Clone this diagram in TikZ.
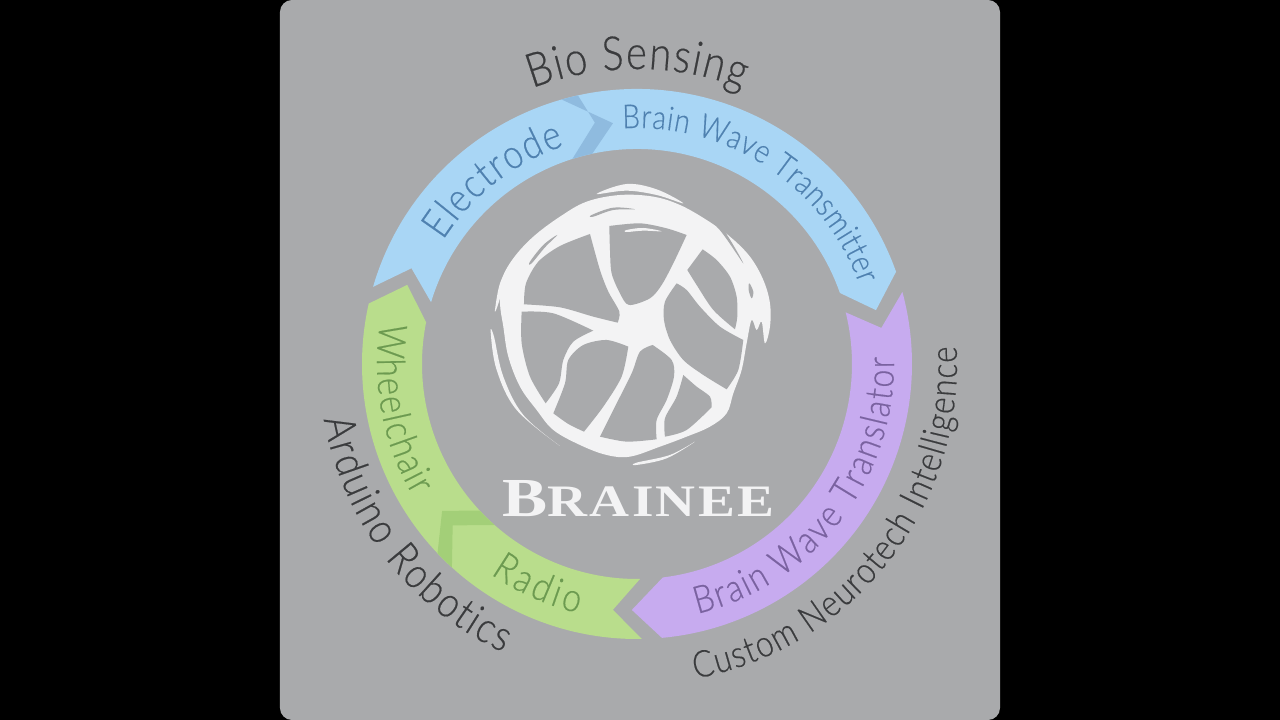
\documentclass[tikz,border=0pt]{standalone}
\usepackage{fontspec}
\usetikzlibrary{decorations.text}
\setmainfont{Carlito}
\newfontfamily\ringfont{Lato Light}[FakeStretch=0.85,FakeBold=0.4]
\newfontfamily\logofont{Liberation Serif}[BoldFont={Liberation Serif Bold}]
\definecolor{panelgrey}{HTML}{A9AAAC}
\definecolor{logowhite}{HTML}{F3F3F4}
\definecolor{darkink}{HTML}{3A3B3D}
\definecolor{bluefill}{HTML}{A9D6F5}
\definecolor{bluefold}{HTML}{8FBBDF}
\definecolor{blueink}{HTML}{4F81B0}
\definecolor{purplefill}{HTML}{C7ABEF}
\definecolor{purpleink}{HTML}{7A62A0}
\definecolor{greenfill}{HTML}{B9DD8C}
\definecolor{greenfold}{HTML}{A3CF78}
\definecolor{greenink}{HTML}{6C9A50}
\newcommand{\ringtext}[2]{\fontsize{#1}{#1}\selectfont\ringfont\color{#2}}
\begin{document}
\begin{tikzpicture}[x=1pt,y=1pt]
\tikzset{curved text/.style n args={2}{ %
		decorate,
		decoration={text along path,text align=fit to path,
			text={|#1|#2{\kern0.1pt}}}
	},
	logo hole/.style={fill=panelgrey},
	logo stroke/.style={fill=logowhite}
}
% origin is the centre of the ring
\useasboundingbox (-637,-356) rectangle (643,364);
\fill[black] (-637,-356) rectangle (643,364);
\fill[panelgrey,rounded corners=12] (-357,-356) rectangle (363,364);
% arrows
\fill[bluefill] (163.7:275) arc[start angle=163.7,end angle=19.6,radius=275]
	-- (12.7:245) -- (19.3:215) arc[start angle=19.3,end angle=163.3,radius=215]
	-- (157:245) -- cycle;
\fill[bluefold] (105.9:275) -- (95.7:242) -- (102:215)
	arc[start angle=102,end angle=107.5,radius=215] -- (99.9:245) -- (102.4:275)
	arc[start angle=102.4,end angle=105.9,radius=275] -- cycle;
\fill[purplefill] (15.2:275) arc[start angle=15.2,end angle=-84.8,radius=275]
	-- (-91.2:246) -- (-83.1:215) arc[start angle=-83.1,end angle=13.9,radius=215]
	-- (8.4:247) -- cycle;
\fill[greenfill] (-89:275) arc[start angle=271,end angle=167.3,radius=275]
	-- (161:243) -- (168.8:215) arc[start angle=168.8,end angle=270.8,radius=215]
	-- (-95.6:247) -- cycle;
\fill[greenfold] (223.5:275) -- (217:244) -- (223:215)
	arc[start angle=223,end angle=228.5,radius=215] -- (221.2:245) -- (227.7:275)
	arc[start angle=227.7,end angle=223.5,radius=275] -- cycle;
% labels on the arrows
\path[curved text={\ringtext{41}{blueink}}{Electrode}]
	(147.5:230) arc[start angle=147.5,end angle=108,radius=230];
\path[curved text={\ringtext{33}{blueink}}{Brain Wave Transmitter}]
	(93.5:236) arc[start angle=93.5,end angle=19.5,radius=236];
\path[curved text={\ringtext{38}{purpleink}}{Brain Wave Translator}]
	(-76.4:257) arc[start angle=-76.4,end angle=2,radius=257];
\path[curved text={\ringtext{40}{greenink}}{Radio}]
	(235.1:256) arc[start angle=235.1,end angle=257.5,radius=256];
\path[curved text={\ringtext{39}{greenink}}{Wheelchair}]
	(171:260) arc[start angle=171,end angle=211,radius=260];
% labels round the ring
\path[curved text={\ringtext{47}{darkink}}{Bio Sensing}]
	(110.8:295) arc[start angle=110.8,end angle=68.8,radius=295];
\path[curved text={\ringtext{37}{darkink}}{Custom Neurotech Intelligence}]
	(-79.5:320) arc[start angle=-79.5,end angle=3.4,radius=320];
\path[curved text={\ringtext{43}{darkink}}{Arduino Robotics}]
	(190:318) arc[start angle=190,end angle=245.5,radius=318];
% logo, points read off in a third of a pixel
\begin{scope}[shift={(-157,194)},x=0.3333pt,y=-0.3333pt]
\fill[logo stroke] plot[smooth cycle,tension=0.6] coordinates {(65,330) (100,265) (160,200)
	(240,140) (320,95) (420,75) (520,80) (600,105) (680,150) (750,200) (810,260) (850,330)
	(870,400) (870,470) (855,520) (845,455) (830,480) (815,450) (800,520) (785,600) (760,670) (740,730)
	(690,770) (620,800) (540,830) (450,860) (380,855) (300,825) (220,780) (170,720) (120,650)
	(85,560) (70,470) (60,400)};
\fill[logo stroke] plot[smooth cycle,tension=0.6] coordinates {(350,72) (440,42) (530,58)
	(610,100) (530,75) (440,62)};
\fill[logo stroke] plot[smooth cycle,tension=0.6] coordinates {(470,885) (560,865) (645,815)
	(570,855) (470,878)};
\fill[logo stroke] plot[smooth cycle,tension=0.6] coordinates {(32,485) (50,600) (110,720)
	(240,828) (130,735) (70,620) (42,500)};
\fill[logo stroke] plot[smooth cycle,tension=0.6] coordinates {(45,420) (60,340) (90,285)
	(72,345) (52,410)};
% cells between the strands
\fill[logo hole] plot[smooth] coordinates {(330,192) (360,300) (385,365) (418,425) (413,458)}
	-- plot[smooth] coordinates {(413,458) (340,440) (240,412) (132,403)}
	-- plot[smooth] coordinates {(132,403) (138,340) (175,275) (240,228) (330,192)} -- cycle;
\fill[logo hole] plot[smooth] coordinates {(388,168) (390,240) (395,310) (420,370) (447,405)
	(510,385) (545,345) (580,280) (620,195)}
	-- plot[smooth] coordinates {(620,195) (560,175) (480,160) (388,168)} -- cycle;
\fill[logo hole] (668,238) -- plot[smooth] coordinates {(622,300) (650,345) (700,420) (765,478)}
	-- plot[smooth] coordinates {(765,478) (772,440) (770,380) (750,320) (710,270) (668,238)} -- cycle;
\fill[logo hole] plot[smooth] coordinates {(590,340) (555,395) (552,450) (570,510) (610,570)
	(670,615) (740,658)}
	-- plot[smooth] coordinates {(740,658) (775,600) (790,510)}
	-- plot[smooth] coordinates {(790,510) (720,470) (660,410) (620,360) (590,340)} -- cycle;
\fill[logo hole] plot[smooth] coordinates {(125,425) (220,430) (340,482)}
	-- plot[smooth] coordinates {(340,482) (280,515) (250,570) (237,640) (197,700)}
	-- plot[smooth] coordinates {(197,700) (150,620) (125,520) (125,425)} -- cycle;
\fill[logo hole] plot[smooth] coordinates {(445,530) (380,510) (310,525) (265,570) (255,640) (220,730)}
	-- plot[smooth] coordinates {(220,730) (265,762) (312,785)}
	-- plot[smooth] coordinates {(312,785) (370,710) (425,620) (445,530)} -- cycle;
\fill[logo hole] plot[smooth] coordinates {(518,525) (480,545) (455,610) (405,710) (360,800)}
	-- plot[smooth] coordinates {(360,800) (440,815) (530,808)}
	-- plot[smooth] coordinates {(530,808) (530,750) (560,690) (582,620) (575,570) (518,525)} -- cycle;
\fill[logo hole] plot[smooth] coordinates {(610,615) (590,680) (555,745) (555,800)}
	-- plot[smooth] coordinates {(555,800) (620,780) (695,712)}
	-- plot[smooth] coordinates {(695,712) (690,680) (650,650) (610,615)} -- cycle;
% brush marks
\fill[logo stroke] plot[smooth cycle,tension=0.6] coordinates {(440,180) (490,174) (545,184)
	(490,182) (440,186)};
\fill[logo hole] plot[smooth cycle,tension=0.6] coordinates {(335,135) (400,113) (465,118)
	(400,120) (340,140)};
\fill[logo hole] plot[smooth cycle,tension=0.6] coordinates {(150,275) (190,225) (232,195)
	(195,232) (155,280)};
\fill[logo hole] plot[smooth cycle,tension=0.6] coordinates {(650,115) (720,165) (790,280)
	(715,175) (645,120)};
\fill[logo hole] plot[smooth cycle,tension=0.6] coordinates {(808,340) (820,365) (815,385)
	(806,360)};
\end{scope}
\node[text=logowhite,inner sep=0pt,xscale=1.23,anchor=base] (brand) at (1.5,-152.5)
	{\logofont\bfseries\fontsize{55}{55}\selectfont B\fontsize{45}{45}\selectfont\addfontfeature{LetterSpace=4}RAINEE};
\end{tikzpicture}
\end{document}
